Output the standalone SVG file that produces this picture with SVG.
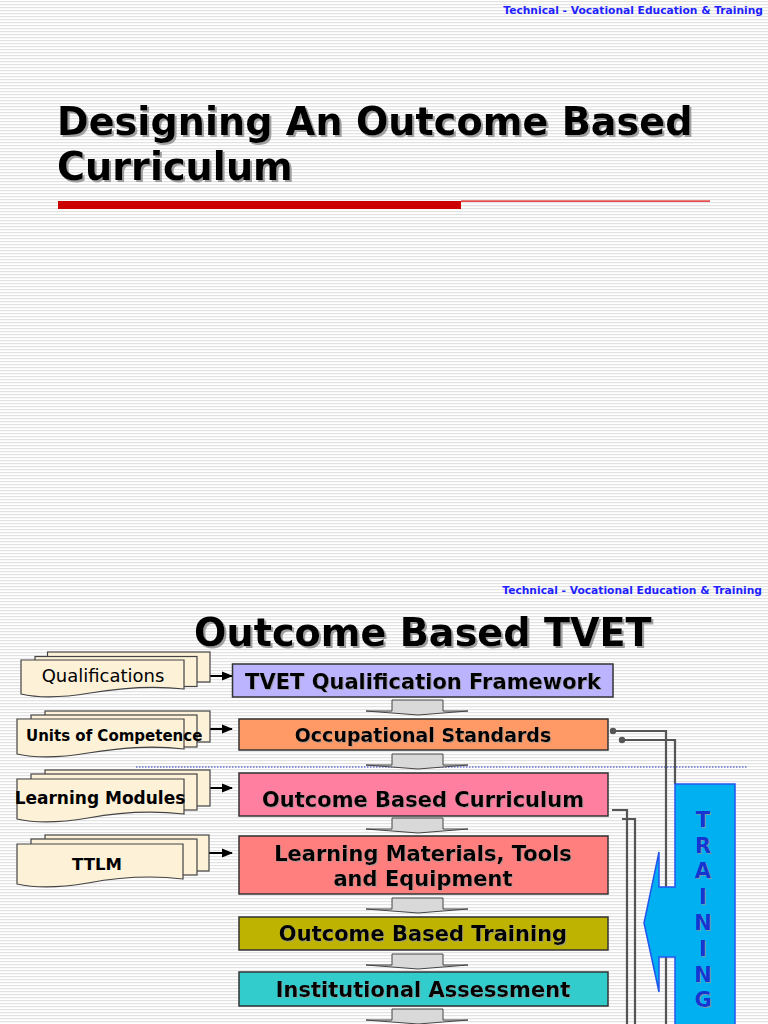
<svg xmlns="http://www.w3.org/2000/svg" width="768" height="1024" viewBox="0 0 768 1024">
<defs>
<pattern id="stripes" width="8" height="3" patternUnits="userSpaceOnUse">
<rect width="8" height="3" fill="#ffffff"/>
<rect y="1" width="8" height="1.2" fill="#e2e2e2"/>
</pattern>
<filter id="tshadow" x="-5%" y="-20%" width="110%" height="140%">
<feDropShadow dx="2" dy="2" stdDeviation="0.6" flood-color="#8a8a8a" flood-opacity="0.8"/>
</filter>
<filter id="sshadow" x="-5%" y="-20%" width="110%" height="140%">
<feDropShadow dx="1" dy="1" stdDeviation="0.4" flood-color="#999" flood-opacity="0.7"/>
</filter>
<marker id="arr" markerWidth="11" markerHeight="10" refX="10" refY="5" orient="auto" markerUnits="userSpaceOnUse">
<path d="M0,0.5 L11,5 L0,9.5 Z" fill="#000"/>
</marker>
<style>
.hdr{font-family:"DejaVu Sans",Verdana,sans-serif;font-weight:bold;font-size:10.7px;fill:#1f1fff}
.title{font-family:"DejaVu Sans",Verdana,sans-serif;font-weight:bold;font-size:38.2px;fill:#000;filter:url(#tshadow)}
.box{stroke:#333;stroke-width:1.5}
.bt{font-family:"DejaVu Sans",Verdana,sans-serif;font-weight:bold;font-size:21px;fill:#000;text-anchor:middle;filter:url(#sshadow)}
.sheet{fill:#fdf1d8;stroke:#444;stroke-width:1.2}
.dt{font-family:"DejaVu Sans",Verdana,sans-serif;fill:#000}
.darr{fill:#d9d9d9;stroke:#444;stroke-width:1}
.con{fill:none;stroke:#555;stroke-width:2.2}
.ptr{stroke:#000;stroke-width:2;marker-end:url(#arr)}
</style>
</defs>
<rect width="768" height="1024" fill="url(#stripes)"/>

<!-- Slide 1 -->
<text class="hdr" x="763" y="14" text-anchor="end">Technical - Vocational Education &amp; Training</text>
<text class="title" x="57" y="135">Designing An Outcome Based</text>
<text class="title" x="57" y="180">Curriculum</text>
<rect x="58" y="201" width="403" height="8" fill="#cc0000"/>
<rect x="461" y="200.5" width="249" height="1.2" fill="#dd0000"/>

<!-- Slide 2 -->
<text class="hdr" x="762" y="594" text-anchor="end">Technical - Vocational Education &amp; Training</text>
<text class="title" x="194" y="646">Outcome Based TVET</text>

<line x1="136" y1="767" x2="747" y2="767" stroke="#2233cc" stroke-width="1" stroke-dasharray="1.5,1.5"/>

<g id="connectors">
<polyline class="con" points="613,731 666,731 666,1024"/>
<circle cx="613" cy="731" r="3.2" fill="#555"/>
<polyline class="con" points="622,740 675,740 675,784"/>
<circle cx="622" cy="740" r="3.2" fill="#555"/>
<polyline class="con" points="612,810 627,810 627,1024"/>
<polyline class="con" points="622,819 635,819 635,1024"/>
<line class="ptr" x1="201" y1="676" x2="232" y2="676"/>
<line class="ptr" x1="201" y1="729" x2="232" y2="729"/>
<line class="ptr" x1="201" y1="788" x2="232" y2="788"/>
<line class="ptr" x1="200" y1="853" x2="232" y2="853"/>
<path class="darr" d="M392,700 H443 V711 H468 L418,715 L366,711 H392 Z"/>
<path class="darr" d="M392,754 H443 V765 H468 L418,769 L366,765 H392 Z"/>
<path class="darr" d="M392,818 H443 V829 H468 L418,833 L366,829 H392 Z"/>
<path class="darr" d="M392,898 H443 V909 H468 L418,913 L366,909 H392 Z"/>
<path class="darr" d="M392,954 H443 V965 H468 L418,969 L366,965 H392 Z"/>
<path class="darr" d="M392,1009 H443 V1020 H468 L418,1024 L366,1020 H392 Z"/>
</g>

<g id="n-framework">
<rect class="box" x="232.5" y="664" width="380.5" height="33" fill="#bcb4ff"/>
<text class="bt" x="423" y="689">TVET Qualification Framework</text>
</g>
<g id="n-standards">
<rect class="box" x="239" y="719" width="369" height="31" fill="#ff9966"/>
<text class="bt" x="423" y="742" style="font-size:19px">Occupational Standards</text>
</g>
<g id="n-curriculum">
<rect class="box" x="239" y="773" width="369" height="43" fill="#ff7fa0"/>
<text class="bt" x="423" y="807">Outcome Based Curriculum</text>
</g>
<g id="n-materials">
<rect class="box" x="239" y="836" width="369" height="58" fill="#ff7f7f"/>
<text class="bt" x="423" y="861">Learning Materials, Tools</text>
<text class="bt" x="423" y="886">and Equipment</text>
</g>
<g id="n-training">
<rect class="box" x="239" y="917" width="369" height="33" fill="#bdb300"/>
<text class="bt" x="423" y="941">Outcome Based Training</text>
</g>
<g id="n-assessment">
<rect class="box" x="239" y="972" width="369" height="34" fill="#33cccc"/>
<text class="bt" x="423" y="997">Institutional Assessment</text>
</g>

<g id="n-qualifications">
<rect class="sheet" x="47.5" y="652" width="162.5" height="30"/>
<rect class="sheet" x="35" y="656.5" width="162" height="30"/>
<path class="sheet" d="M21,660 H184 V689 C150,685 120,688 90,693 C60,698 38,698 21,694 Z"/>
<text class="dt" x="103" y="682" text-anchor="middle" style="font-size:18px">Qualifications</text>
</g>
<g id="n-units">
<rect class="sheet" x="45" y="711" width="165" height="31"/>
<rect class="sheet" x="31" y="715" width="166" height="32"/>
<path class="sheet" d="M17,719 H184 V749 C150,745 120,748 88,753 C58,758 35,758 17,754 Z"/>
<text class="dt" x="26" y="741" style="font-size:15px;font-weight:bold">Units of Competence</text>
</g>
<g id="n-modules">
<rect class="sheet" x="45" y="770" width="165" height="36"/>
<rect class="sheet" x="31" y="774" width="166" height="36"/>
<path class="sheet" d="M17,779 H184 V814 C150,810 120,812 88,818 C58,823 35,823 17,819 Z"/>
<text class="dt" x="100" y="804" text-anchor="middle" style="font-size:17px;font-weight:bold">Learning Modules</text>
</g>
<g id="n-ttlm">
<rect class="sheet" x="45" y="835" width="164" height="36"/>
<rect class="sheet" x="31" y="839" width="166" height="36"/>
<path class="sheet" d="M17,844 H183 V879 C150,875 120,877 88,883 C58,888 35,888 17,884 Z"/>
<text class="dt" x="97" y="870" text-anchor="middle" style="font-size:16.5px;font-weight:bold">TTLM</text>
</g>

<g id="n-training-arrow">
<path d="M675,784 H735 V1030 H675 V957 H659 V992 L644,923 L659,852 V887 H675 Z" fill="#00b0f0" stroke="#2255ee" stroke-width="1.5"/>
<text x="703" y="827" text-anchor="middle" style="font-family:'DejaVu Sans',Verdana,sans-serif;font-weight:bold;font-size:21px;fill:#1236d0;filter:url(#sshadow)"><tspan x="703" y="827">T</tspan><tspan x="703" y="853">R</tspan><tspan x="703" y="878">A</tspan><tspan x="703" y="904">I</tspan><tspan x="703" y="930">N</tspan><tspan x="703" y="956">I</tspan><tspan x="703" y="982">N</tspan><tspan x="703" y="1007">G</tspan></text>
</g>
</svg>
